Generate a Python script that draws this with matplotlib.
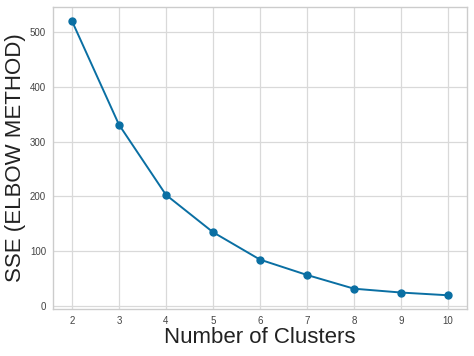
import matplotlib
matplotlib.use("Agg")
import matplotlib.pyplot as plt

clusters = [2, 3, 4, 5, 6, 7, 8, 9, 10]
sse = [520, 331, 203, 135, 85, 57, 32, 25, 20]

plt.rcParams['font.family'] = ['Liberation Sans', 'DejaVu Sans']

fig = plt.figure(figsize=(4.74, 3.56), dpi=100)
ax = fig.add_axes([0.112, 0.132, 0.873, 0.848])

ax.plot(clusters, sse, color='#0a6fa3', linewidth=1.4, marker='o', markersize=5)

ax.set_xlabel('Number of Clusters', fontsize=16, color='#222222', labelpad=1)
ax.set_ylabel('SSE (ELBOW METHOD)', fontsize=16, color='#222222', labelpad=3)
ax.set_xticks(clusters)
ax.set_yticks([0, 100, 200, 300, 400, 500])

ax.grid(True, color='#d9d9d9', linewidth=0.9)
ax.set_axisbelow(True)
ax.tick_params(labelsize=7, colors='#444444', length=0, pad=5)
for s in ax.spines.values():
    s.set_color('#cccccc')
    s.set_linewidth(1.0)

fig.savefig('out.png', dpi=100)
